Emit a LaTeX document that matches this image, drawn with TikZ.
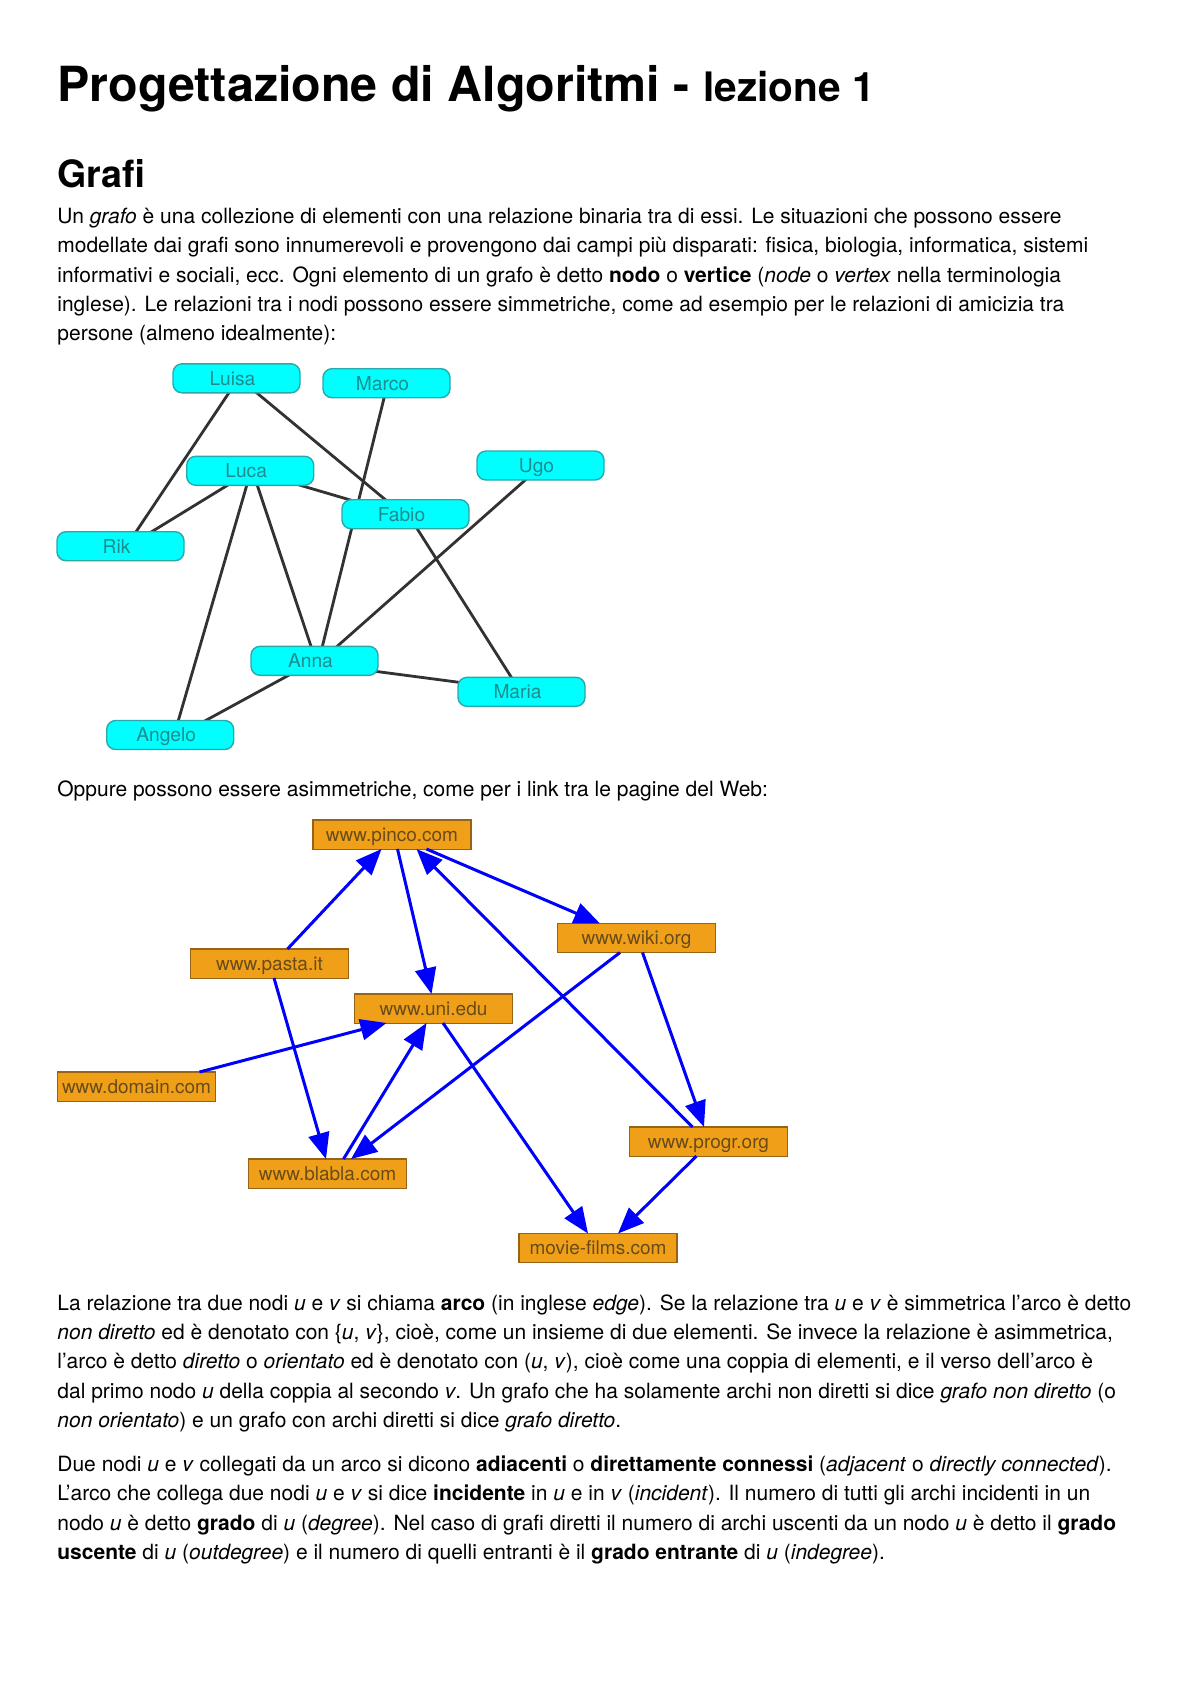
\documentclass[tikz,border=0pt]{standalone}
\usepackage{fontspec}
\setmainfont{TeX Gyre Heros}
\usetikzlibrary{arrows.meta,calc,backgrounds}
\definecolor{cyanfill}{RGB}{0,255,255}
\definecolor{cyanline}{RGB}{40,170,170}
\definecolor{cyantext}{RGB}{30,140,140}
\definecolor{orfill}{RGB}{240,160,24}
\definecolor{orline}{RGB}{150,100,20}
\definecolor{ortext}{RGB}{105,75,25}
\definecolor{edgegray}{RGB}{50,50,50}
\definecolor{linkblue}{RGB}{0,0,255}
\begin{document}
\begin{tikzpicture}[x=0.5pt,y=-0.5pt,
  txt/.style={anchor=base west,inner sep=0pt,font=\fontsize{10.5}{13}\selectfont},
  person/.style={draw=cyanline,fill=cyanfill,rounded corners=4.5pt,minimum width=63.5pt,minimum height=14.5pt,inner sep=0pt,text=cyantext,font=\fontsize{9.6}{11}\selectfont,line width=0.7pt,text height=6.9pt,text depth=0pt,execute at begin node={\hspace*{-4pt}}},
  webpage/.style={draw=orline,fill=orfill,minimum width=79pt,minimum height=14.7pt,inner sep=0pt,text=ortext,font=\fontsize{9.5}{11}\selectfont,line width=0.7pt,text height=6.9pt,text depth=0pt},
  friend/.style={draw=edgegray,line width=1.4pt},
  link/.style={draw=linkblue,line width=1.5pt,-{Triangle[length=13pt,width=10.5pt]}},
]
\useasboundingbox (0,0) rectangle (1200,1698);

% Title and heading
\node[anchor=base west,inner sep=0pt] (title) at (57,101) {\fontsize{24.2}{29}\selectfont\bfseries Progettazione di Algoritmi - {\fontsize{20.3}{24}\selectfont lezione 1}};
\node[anchor=base west,inner sep=0pt] (grafi) at (57,187) {\fontsize{18.8}{22}\selectfont\bfseries Grafi};

% Paragraph 1
\node[txt] (p1a) at (57,223.6) {Un \emph{grafo} è una collezione di elementi con una relazione binaria tra di essi. Le situazioni che possono essere};
\node[txt] (p1b) at (57,252.8) {modellate dai grafi sono innumerevoli e provengono dai campi più disparati: fisica, biologia, informatica, sistemi};
\node[txt] (p1c) at (57,282) {informativi e sociali, ecc. Ogni elemento di un grafo è detto \textbf{nodo} o \textbf{vertice} (\emph{node} o \emph{vertex} nella terminologia};
\node[txt] (p1d) at (57,311.2) {inglese). Le relazioni tra i nodi possono essere simmetriche, come ad esempio per le relazioni di amicizia tra};
\node[txt] (p1e) at (57,340.4) {persone (almeno idealmente):};

% Graph 1 (symmetric)
\node[person] (luisa) at (236.5,378.3) {Luisa};
\node[person] (marco) at (386.5,383.2) {Marco};
\node[person] (luca) at (250.2,470.8) {Luca};
\node[person] (ugo) at (540.5,465.5) {Ugo};
\node[person] (fabio) at (405.5,514.2) {Fabio};
\node[person] (rik) at (120.5,546.2) {Rik};
\node[person] (anna) at (314.5,660.8) {Anna};
\node[person] (maria) at (521.5,691.8) {Maria};
\node[person] (angelo) at (170.2,735) {Angelo};

\begin{scope}[on background layer]
  \fill[white] (0,0) rectangle (1200,1698);
  \draw[friend] ($(luisa)+(-6.6,13)$) -- ($(rik)+(14.6,-13)$);
  \draw[friend] ($(luisa)+(18.4,13)$) -- ($(fabio)+(-18.3,-13)$);
  \draw[friend] ($(marco)+(-2,13)$) -- ($(anna)+(7.5,-13)$);
  \draw[friend] ($(luca)+(-20.3,13)$) -- ($(rik)+(28.8,-13)$);
  \draw[friend] ($(luca)+(45,13)$) -- ($(fabio)+(-51,-13)$);
  \draw[friend] ($(luca)+(-3,13)$) -- ($(angelo)+(7.7,-13)$);
  \draw[friend] ($(luca)+(6.6,13)$) -- ($(anna)+(-3,-13)$);
  \draw[friend] ($(ugo)+(-13.5,13)$) -- ($(anna)+(21,-13)$);
  \draw[friend] ($(fabio)+(10.7,13)$) -- ($(maria)+(-9.2,-13)$);
  \draw[friend] ($(anna)+(60,10.4)$) -- ($(maria)+(-61,-9.3)$);
  \draw[friend] ($(anna)+(-23.2,13)$) -- ($(angelo)+(32.7,-13)$);
\end{scope}

\node[txt] (p2) at (57,796) {Oppure possono essere asimmetriche, come per i link tra le pagine del Web:};

% Graph 2 (directed)
\node[webpage] (pinco) at (392,834.5) {www.pinco.com};
\node[webpage] (pasta) at (269.5,963.5) {www.pasta.it};
\node[webpage] (wiki) at (636.5,938) {www.wiki.org};
\node[webpage] (uni) at (433.5,1008.5) {www.uni.edu};
\node[webpage] (domain) at (136.5,1086.5) {www.domain.com};
\node[webpage] (progr) at (708.5,1141.5) {www.progr.org};
\node[webpage] (blabla) at (327.5,1173.5) {www.blabla.com};
\node[webpage] (movie) at (598,1248) {movie-films.com};

\draw[link] ($(pasta)+(18,-14.5)$) -- ($(pinco)+(-10.5,14.5)$);
\draw[link] ($(pinco)+(5.5,14.5)$) -- ($(uni)+(-2,-14.5)$);
\draw[link] ($(pinco)+(34.5,14.5)$) -- ($(wiki)+(-36.5,-14.5)$);
\draw[link] ($(progr)+(-16,-14.5)$) -- ($(pinco)+(24.5,14.5)$);
\draw[link] ($(wiki)+(-16.5,14.5)$) -- ($(blabla)+(23.5,-14.5)$);
\draw[link] ($(wiki)+(6,14.5)$) -- ($(progr)+(-4.5,-14.5)$);
\draw[link] ($(pasta)+(4.5,14.5)$) -- ($(blabla)+(-1.5,-14.5)$);
\draw[link] ($(domain)+(63,-14.5)$) -- ($(uni)+(-47,14.5)$);
\draw[link] ($(blabla)+(16,-14.5)$) -- ($(uni)+(-7,14.5)$);
\draw[link] ($(uni)+(9.5,14.5)$) -- ($(movie)+(-10,-14.5)$);
\draw[link] ($(progr)+(-12,14.5)$) -- ($(movie)+(20,-14.5)$);

% Paragraph 3
\node[txt] (p3a) at (57,1310.5) {La relazione tra due nodi \emph{u} e \emph{v} si chiama \textbf{arco} (in inglese \emph{edge}). Se la relazione tra \emph{u} e \emph{v} è simmetrica l'arco è detto};
\node[txt] (p3b) at (57,1339.7) {\emph{non diretto} ed è denotato con \{\emph{u}, \emph{v}\}, cioè, come un insieme di due elementi. Se invece la relazione è asimmetrica,};
\node[txt] (p3c) at (57,1368.9) {l'arco è detto \emph{diretto} o \emph{orientato} ed è denotato con (\emph{u}, \emph{v}), cioè come una coppia di elementi, e il verso dell'arco è};
\node[txt] (p3d) at (57,1398.1) {dal primo nodo \emph{u} della coppia al secondo \emph{v}. Un grafo che ha solamente archi non diretti si dice \emph{grafo non diretto} (o};
\node[txt] (p3e) at (57,1427.3) {\emph{non orientato}) e un grafo con archi diretti si dice \emph{grafo diretto}.};

% Paragraph 4
\node[txt] (p4a) at (57,1471.7) {Due nodi \emph{u} e \emph{v} collegati da un arco si dicono \textbf{adiacenti} o \textbf{direttamente connessi} (\emph{adjacent} o \emph{directly connected}).};
\node[txt] (p4b) at (57,1500.9) {L'arco che collega due nodi \emph{u} e \emph{v} si dice \textbf{incidente} in \emph{u} e in \emph{v} (\emph{incident}). Il numero di tutti gli archi incidenti in un};
\node[txt] (p4c) at (57,1530.1) {nodo \emph{u} è detto \textbf{grado} di \emph{u} (\emph{degree}). Nel caso di grafi diretti il numero di archi uscenti da un nodo \emph{u} è detto il \textbf{grado}};
\node[txt] (p4d) at (57,1559.3) {\textbf{uscente} di \emph{u} (\emph{outdegree}) e il numero di quelli entranti è il \textbf{grado entrante} di \emph{u} (\emph{indegree}).};
\end{tikzpicture}
\end{document}
